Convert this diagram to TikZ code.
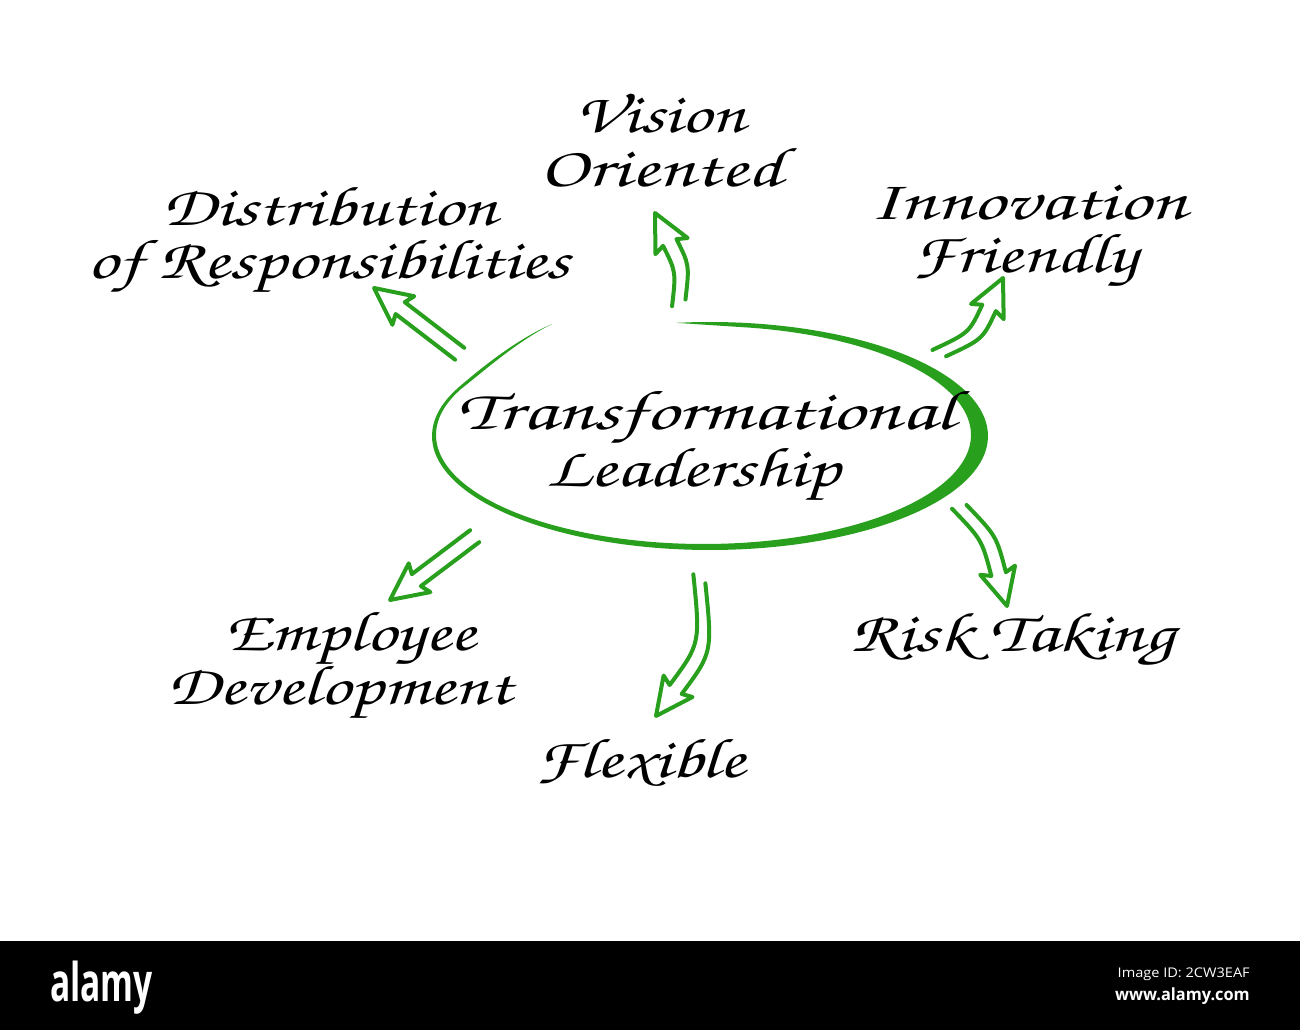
\documentclass[tikz,border=0pt]{standalone}
\usepackage{fontspec}
\usepackage[T1,TU]{fontenc}
\usepackage{graphicx}
\newfontfamily\osans{Open Sans}
\newcommand\chan{\fontencoding{T1}\fontfamily{pzc}\fontseries{mb}\fontshape{it}\fontsize{42}{50}\selectfont}
\newcommand\fitw[2]{\resizebox{#1pt}{\height}{#2}}
\definecolor{dgreen}{RGB}{40,160,30}
\tikzset{
  lab/.style={anchor=base, inner sep=0pt, font=\chan, text=black},
  hline/.style={draw=dgreen, line width=3pt, line join=round, line cap=round},
  pics/harrow/.style args={#1/#2}{code={
    \draw[hline] (-#1,{#2-7.5}) .. controls ({-(#1+33)/2},-7.5) .. (-33,-7.5)
      -- (-37,-18) -- (0,0) -- (-37,18) -- (-33,7.5)
      .. controls ({-(#1+33)/2},7.5) .. (-#1,{#2+7.5});
  }}
}
\begin{document}
\begin{tikzpicture}[x=0.75pt,y=-0.75pt]
\useasboundingbox (0,0) rectangle (1300,1030);
\fill[white] (0,0) rectangle (1300,1030);

% central ring
\fill[dgreen] plot[smooth, domain=-97:205, samples=90] ({710+278*cos(\x)},{436+114*sin(\x)})
  .. controls (488,362) and (520,338) .. (552,324)
  .. controls (518,341) and (490,366) .. (461,389)
  -- plot[smooth, domain=205:-80, samples=90] ({703.5+267.5*cos(\x)},{435+109*sin(\x)}) -- cycle;

% centre text
\node[lab] (tl1) at (706,430) {\fitw{373}{Transformational}};
\node[lab] (tl2) at (693,487) {\fitw{220}{Leadership}};

% labels
\node[lab] (vo1) at (660,133) {\fitw{127.5}{Vision}};
\node[lab] (vo2) at (661,187) {\fitw{182}{Oriented}};
\node[lab] (dr1) at (330,226) {\fitw{251}{Distribution}};
\node[lab] (dr2) at (329,279) {\fitw{361.5}{of Responsibilities}};
\node[lab] (if1) at (1028,220) {\fitw{238}{Innovation}};
\node[lab] (if2) at (1025,273) {\fitw{169}{Friendly}};
\node[lab] (ed1) at (350,650) {\fitw{187.5}{Employee}};
\node[lab] (ed2) at (340,704) {\fitw{259}{Development}};
\node[lab] (fx) at (640,777) {\fitw{157.5}{Flexible}};
\node[lab] (rt) at (1013,651) {\fitw{243}{Risk Taking}};

% hollow arrows
\coordinate (tipD) at (374,288);
\coordinate (tipV) at (655,213);
\coordinate (tipI) at (1003,278);
\coordinate (tipE) at (390,600);
\coordinate (tipF) at (656,716);
\coordinate (tipR) at (1007,606);
\pic[rotate=142.5] at (tipD) {harrow=108/0};
\pic[rotate=116.6] at (tipV) {harrow=91/-19};
\pic[rotate=65] at (tipI) {harrow=95/-26};
\pic[rotate=-143] at (tipE) {harrow=106/0};
\pic[rotate=-126.6] at (tipF) {harrow=136/47};
\pic[rotate=-75.3] at (tipR) {harrow=108/21};

% stock bar
\fill[black] (0,941) rectangle (1300,1030);
\node[anchor=base west, inner sep=0pt, text=white, font=\osans\bfseries\fontsize{40}{40}\selectfont] (logo) at (50,1001) {\fitw{77}{alamy}};
\node[anchor=base east, inner sep=0pt, text=white, font=\osans\fontsize{10}{12}\selectfont] (imgid) at (1250,977) {\fitw{99}{Image ID: 2CW3EAF}};
\node[anchor=base east, inner sep=0pt, text=white, font=\osans\bfseries\fontsize{12.6}{14}\selectfont] (url) at (1250,1000) {\fitw{101}{www.alamy.com}};
\end{tikzpicture}
\end{document}
